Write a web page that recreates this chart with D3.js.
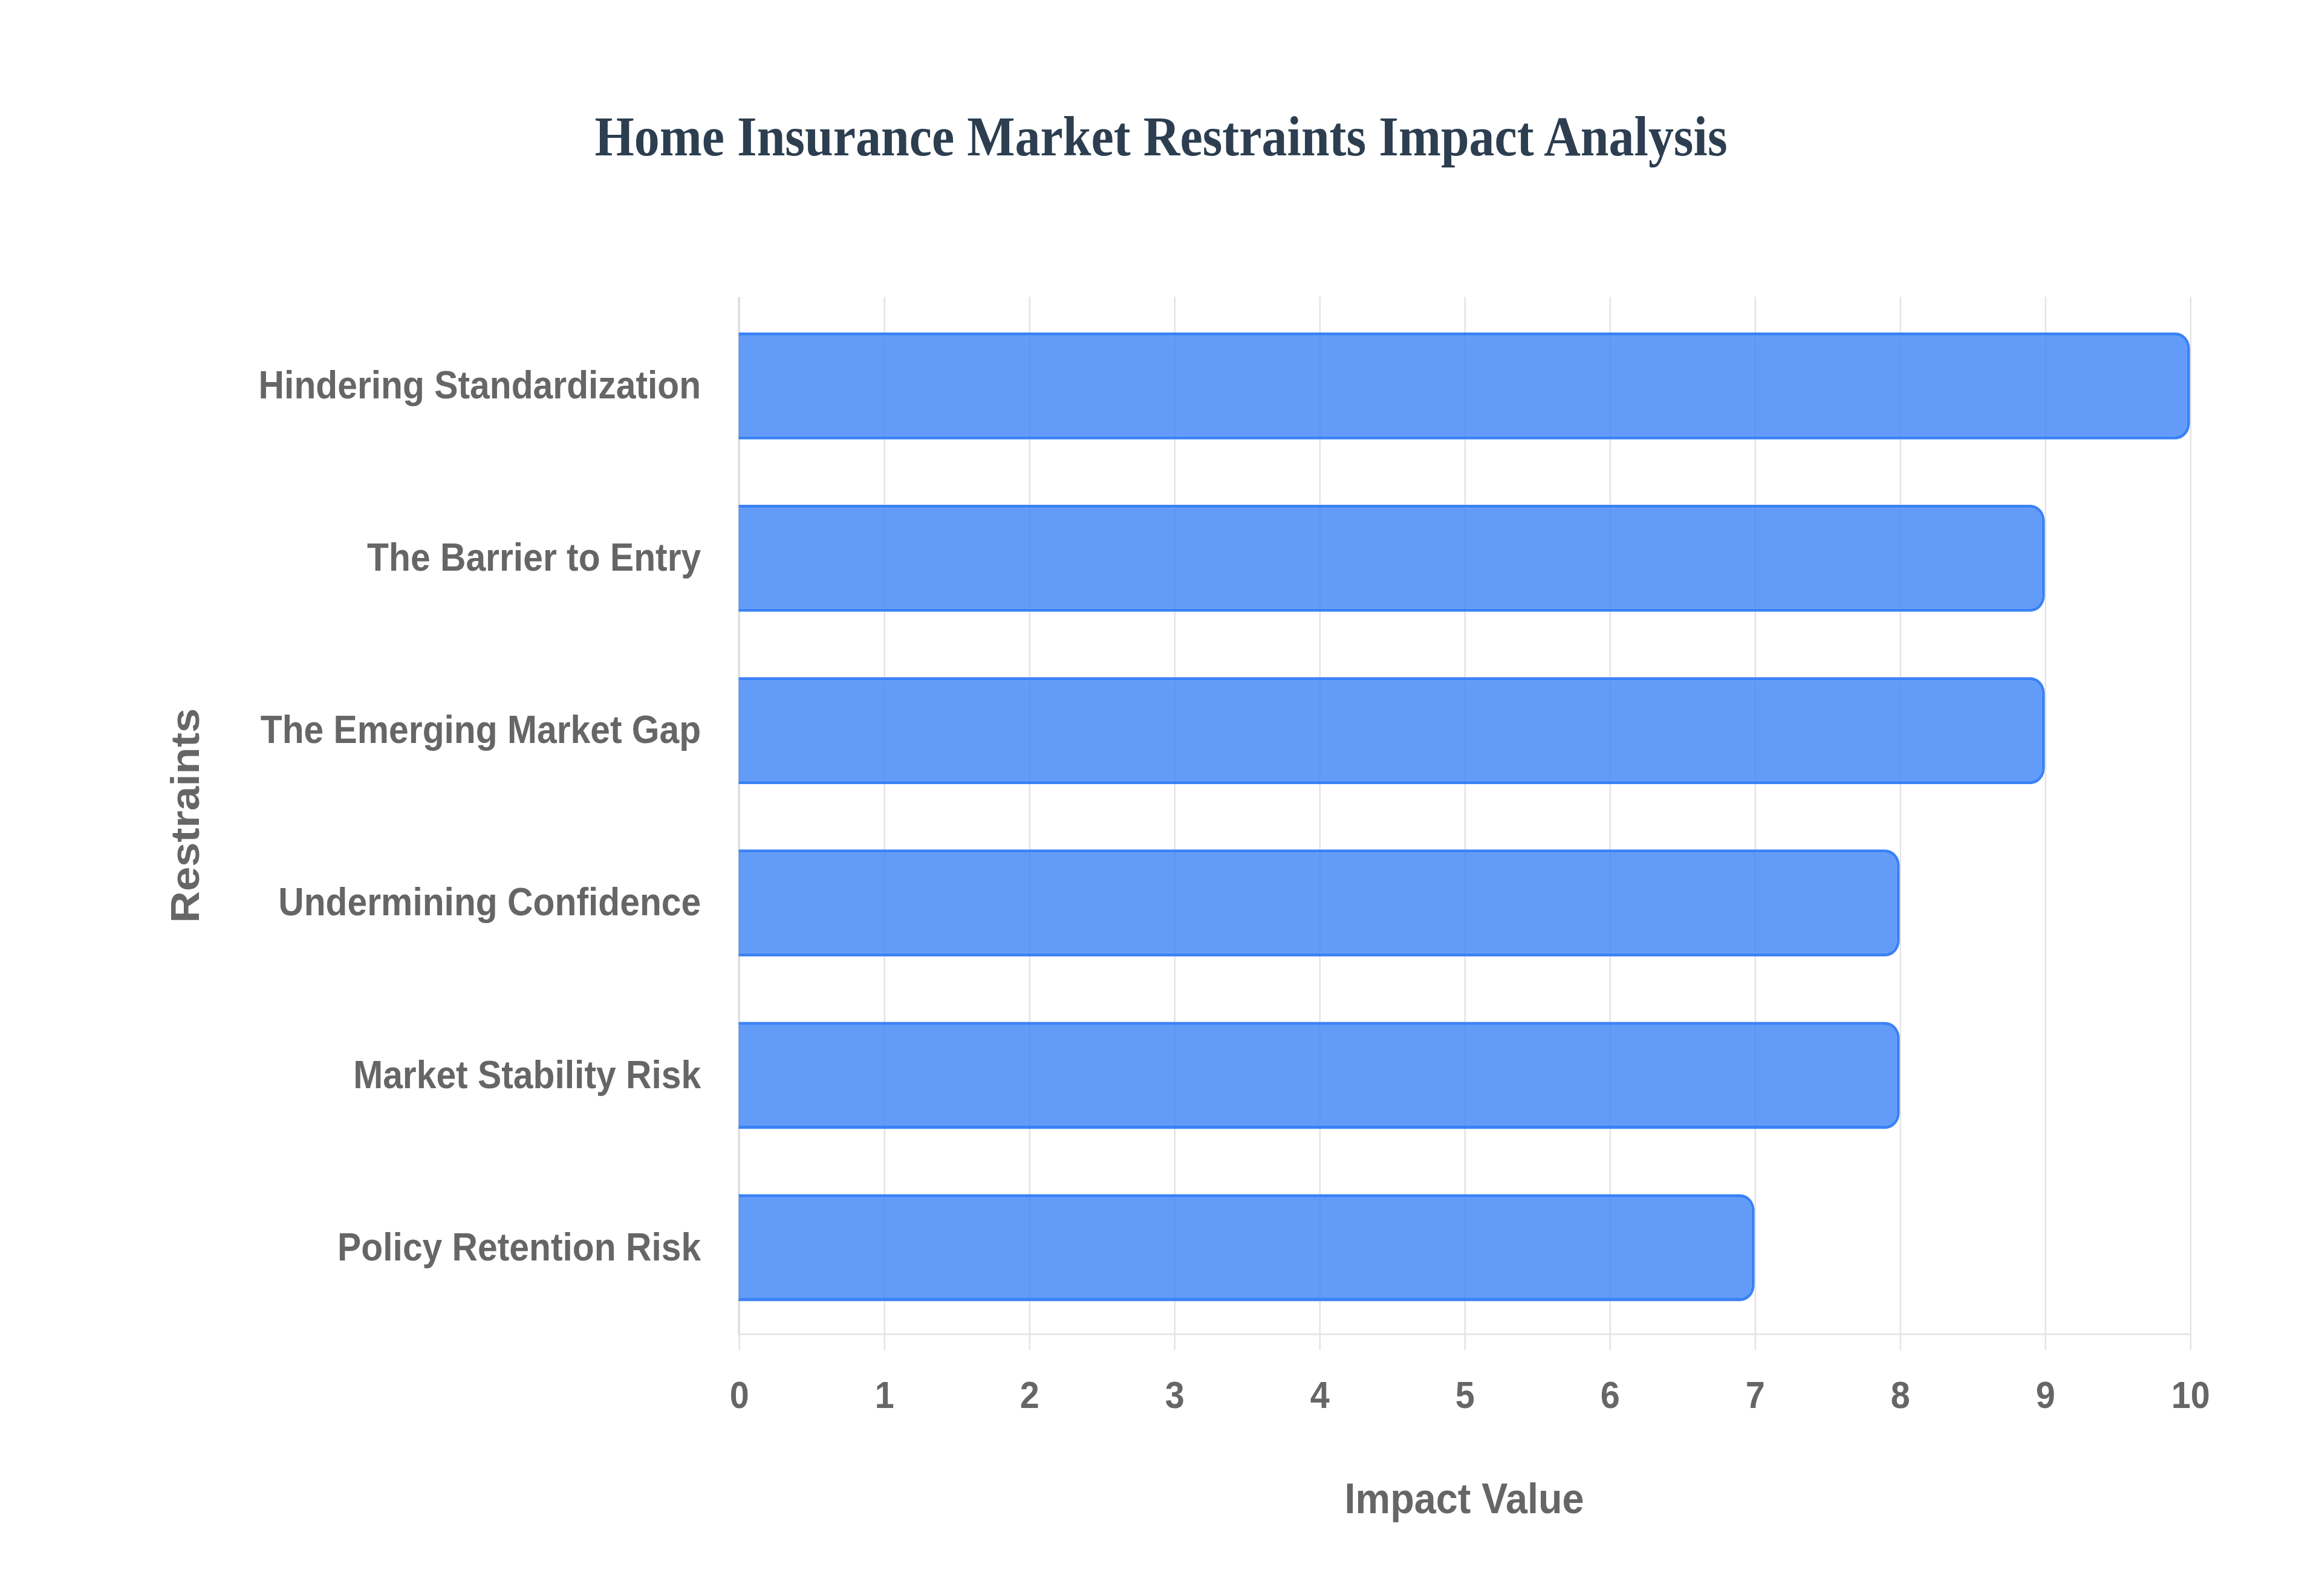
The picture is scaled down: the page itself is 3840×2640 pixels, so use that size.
<!DOCTYPE html>
<html>
<head>
<meta charset="utf-8">
<script src="https://cdn.jsdelivr.net/npm/d3@7"></script>
<style>
  html, body { margin: 0; padding: 0; background: #ffffff; }
  svg { display: block; }
  .tick text { font-family: "Liberation Sans", Arial, Helvetica, sans-serif; font-weight: bold; fill: #666666; }
</style>
</head>
<body>
<div class="chart"></div>
<script>
// data
const restraints = [
  "Hindering Standardization",
  "The Barrier to Entry",
  "The Emerging Market Gap",
  "Undermining Confidence",
  "Market Stability Risk",
  "Policy Retention Risk"
];
const impactValues = [10, 9, 9, 8, 8, 7];
const xTicks = [0, 1, 2, 3, 4, 5, 6, 7, 8, 9, 10];

const chartTitle = "Home Insurance Market Restraints Impact Analysis";
const xTitle = "Impact Value";
const yTitle = "Restraints";

// drawn in a 1600x1000 space, stretched to the 3840x2640 window
const vbW = 1600, vbH = 1000;
const margin = { top: 186, right: 91, bottom: 164, left: 509 };
const width = vbW - margin.left - margin.right;
const height = vbH - margin.top - margin.bottom;

const x = d3.scaleLinear()
  .domain([0, 10])
  .range([0, width]);

const y = d3.scaleBand()
  .domain(restraints)
  .range([1.8, height - 0.2])
  .paddingInner(0.38)
  .paddingOuter(0.19);

const svg = d3.select(".chart").append("svg")
  .attr("width", 3840)
  .attr("height", 2640)
  .attr("viewBox", `0 0 ${vbW} ${vbH}`)
  .attr("preserveAspectRatio", "none");

svg.append("rect")
  .attr("width", vbW)
  .attr("height", vbH)
  .attr("fill", "#ffffff");

svg.append("text")
  .attr("x", vbW / 2)
  .attr("y", 97.5)
  .attr("text-anchor", "middle")
  .style("font-family", "'Liberation Serif', 'Times New Roman', serif")
  .style("font-weight", "bold")
  .style("font-size", "35px")
  .style("fill", "#2c3e50")
  .text(chartTitle);

const g = svg.append("g")
  .attr("transform", `translate(${margin.left},${margin.top})`);

// vertical grid + x tick labels
const tickLen = 10;
const xAxis = d3.axisBottom(x)
  .tickValues(xTicks)
  .tickFormat(d3.format("d"))
  .tickSize(-(height + tickLen))
  .tickPadding(19);

const xAxisG = g.append("g")
  .attr("class", "x axis")
  .attr("transform", `translate(0,${height + tickLen})`)
  .call(xAxis);

xAxisG.select(".domain").remove();
xAxisG.selectAll(".tick line")
  .attr("stroke", "#e3e3e3")
  .attr("stroke-width", 1);
xAxisG.selectAll(".tick text")
  .style("font-size", "24px");

// axis border lines
g.append("line")
  .attr("x1", 0).attr("x2", width)
  .attr("y1", height).attr("y2", height)
  .attr("stroke", "#e3e3e3")
  .attr("stroke-width", 1);

g.append("line")
  .attr("x1", 0).attr("x2", 0)
  .attr("y1", 0).attr("y2", height)
  .attr("stroke", "#dcdcdc")
  .attr("stroke-width", 1);

// category labels
const yAxis = d3.axisLeft(y)
  .tickSize(0)
  .tickPadding(26);

const yAxisG = g.append("g")
  .attr("class", "y axis")
  .call(yAxis);

yAxisG.select(".domain").remove();
yAxisG.selectAll(".tick text")
  .style("font-size", "24.5px");

// bars: square at the start, rounded at the end, border drawn inside
const radius = 10;
const bw = 2;

function barPath (x0, y0, x1, y1, r) {
  r = Math.min(r, (y1 - y0) / 2, x1 - x0);
  return `M${x0},${y0}H${x1 - r}A${r},${r} 0 0 1 ${x1},${y0 + r}` +
    `V${y1 - r}A${r},${r} 0 0 1 ${x1 - r},${y1}H${x0}Z`;
}

const bars = g.append("g")
  .attr("class", "bars")
  .selectAll("g")
  .data(restraints.map((d, i) => ({ name: d, value: impactValues[i] })))
  .join("g");

// border ring
bars.append("path")
  .attr("fill", "rgba(59,130,246,1)")
  .attr("fill-rule", "evenodd")
  .attr("d", d => {
    const x0 = x(0), x1 = x(d.value);
    const y0 = y(d.name), y1 = y(d.name) + y.bandwidth();
    return barPath(x0, y0, x1, y1, radius) +
      barPath(x0, y0 + bw, x1 - bw, y1 - bw, radius - bw);
  });

// fill
bars.append("path")
  .attr("fill", "rgba(59,130,246,0.8)")
  .attr("d", d => {
    const x0 = x(0), x1 = x(d.value);
    const y0 = y(d.name), y1 = y(d.name) + y.bandwidth();
    return barPath(x0, y0 + bw, x1 - bw, y1 - bw, radius - bw);
  });

// axis titles
svg.append("text")
  .attr("x", margin.left + width / 2)
  .attr("y", 948)
  .attr("text-anchor", "middle")
  .style("font-family", "'Liberation Sans', Arial, Helvetica, sans-serif")
  .style("font-weight", "bold")
  .style("font-size", "27px")
  .style("fill", "#666666")
  .text(xTitle);

svg.append("text")
  .attr("transform", `translate(137,${margin.top + height / 2}) rotate(-90)`)
  .attr("text-anchor", "middle")
  .style("font-family", "'Liberation Sans', Arial, Helvetica, sans-serif")
  .style("font-weight", "bold")
  .style("font-size", "27.5px")
  .style("fill", "#666666")
  .text(yTitle);
</script>
</body>
</html>
